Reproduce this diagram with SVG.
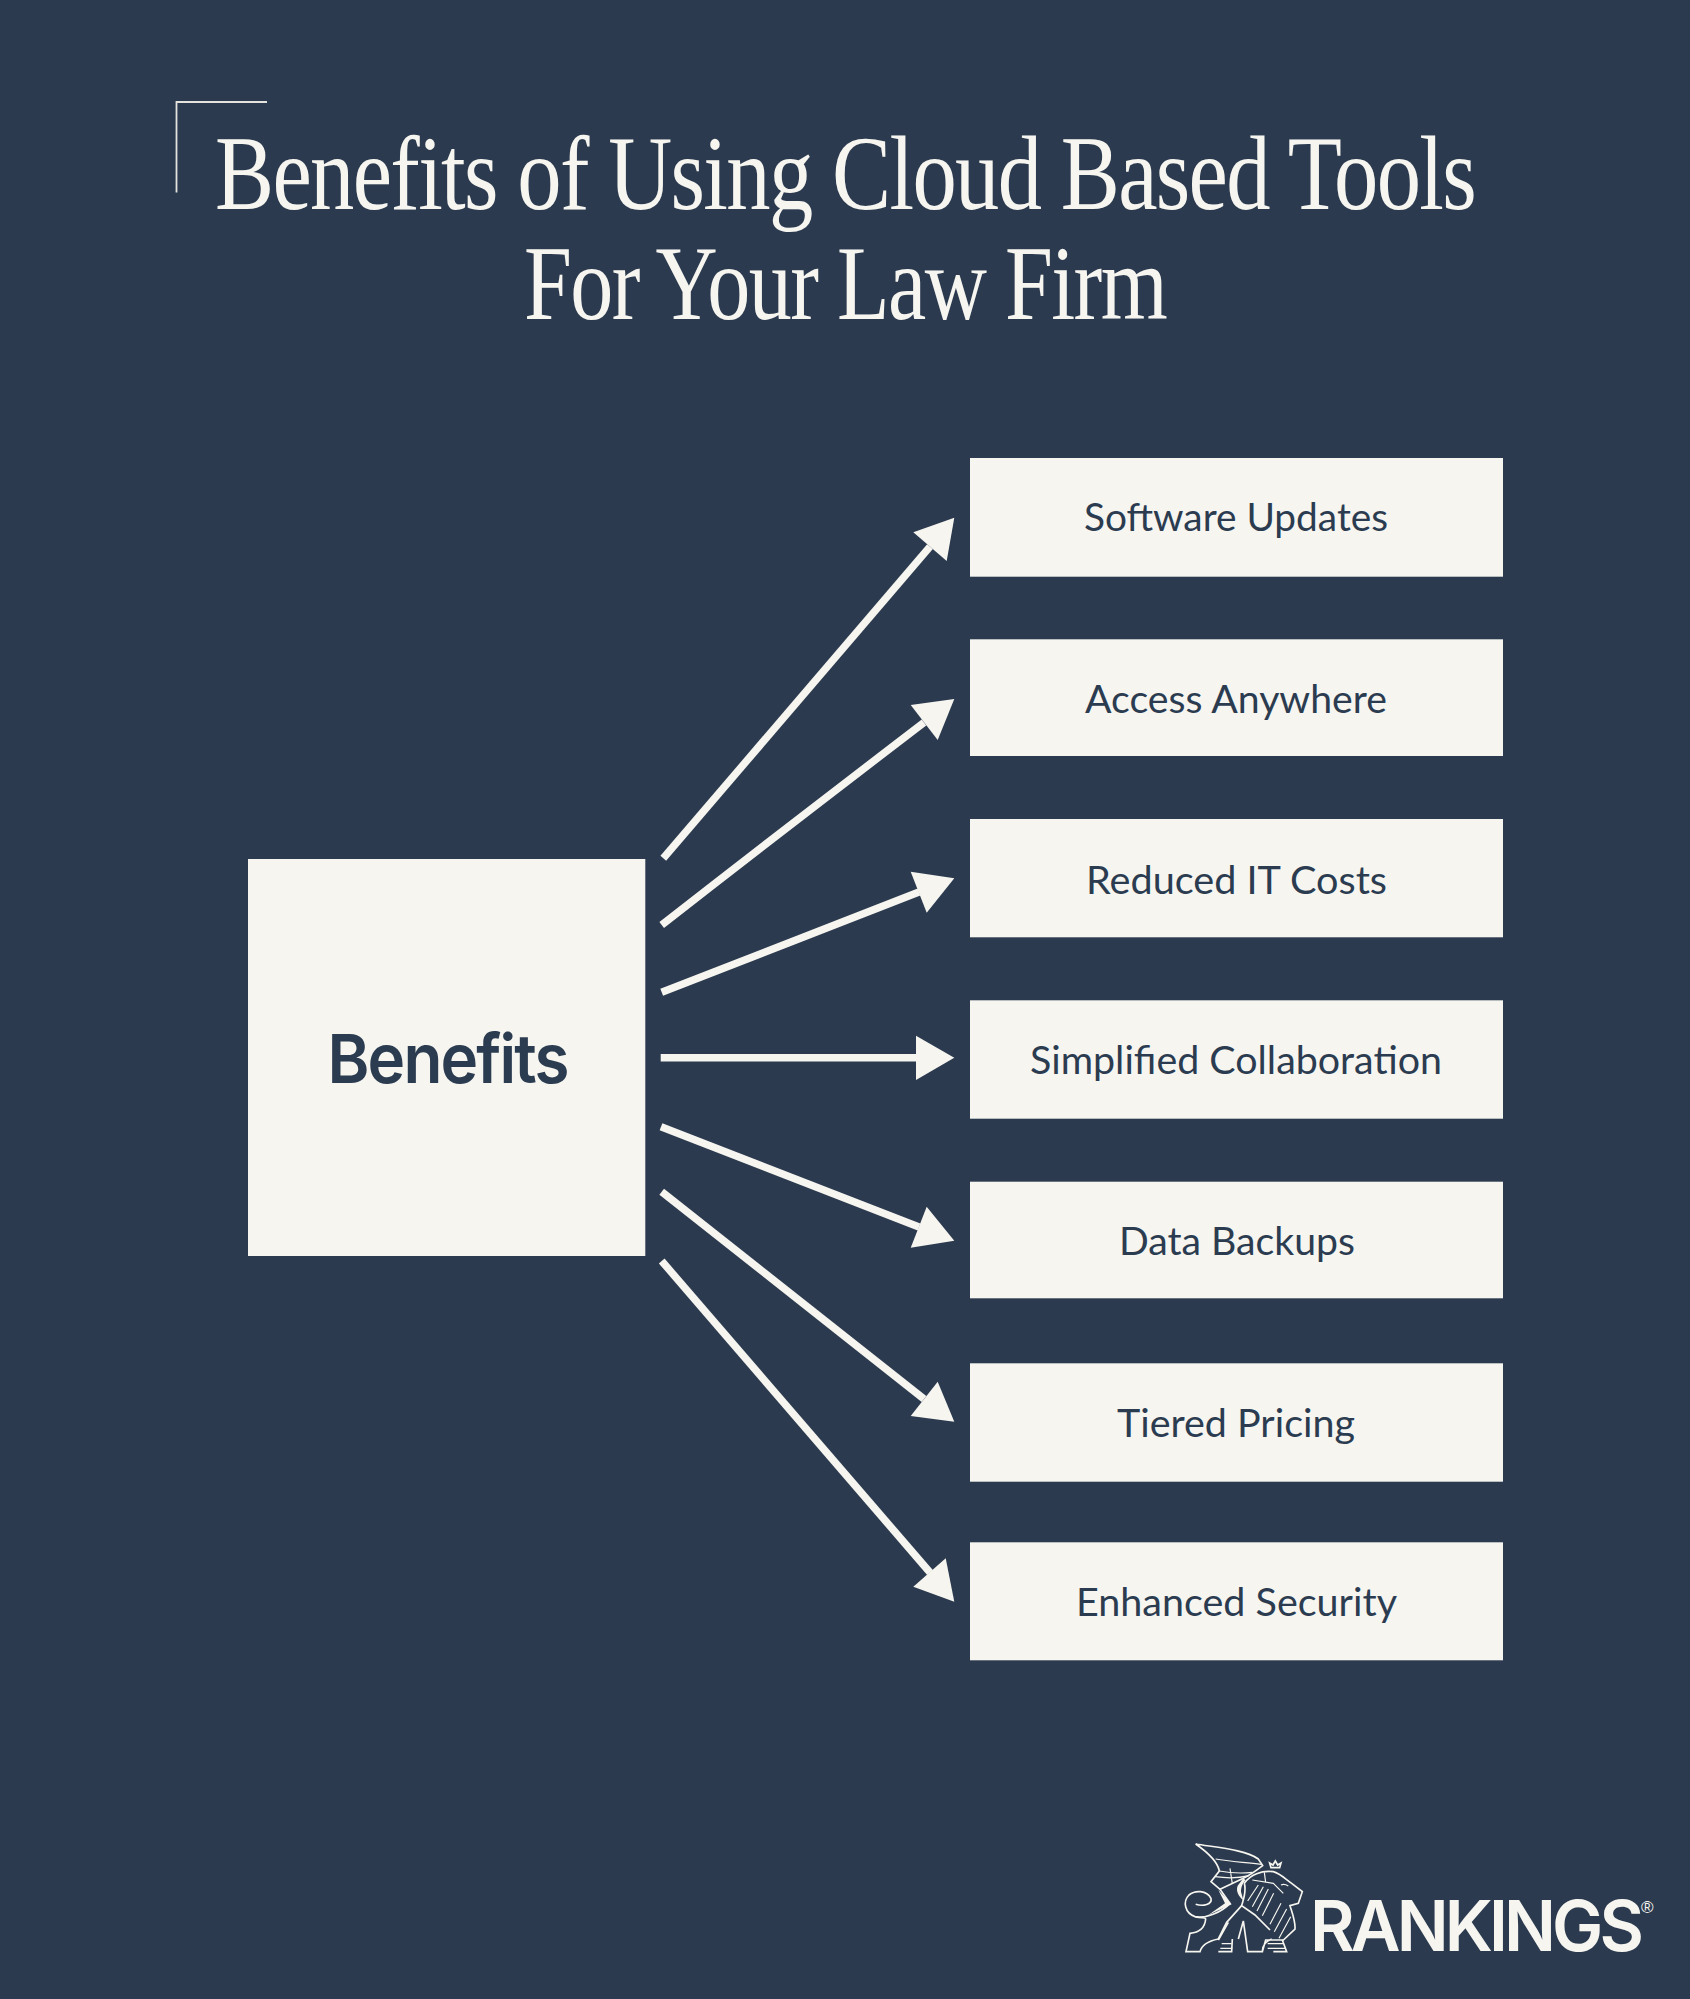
<svg xmlns="http://www.w3.org/2000/svg" width="1690" height="1999" viewBox="0 0 1690 1999">
<defs>
<style>
.box{fill:#f6f5f0}
.shaft{stroke:#f6f5f0;stroke-width:7.500;fill:none}
.head{fill:#f6f5f0}
.title{font-family:"Liberation Serif","Times New Roman",serif;font-size:105px;fill:#f6f5f0;letter-spacing:-2px}
.label{font-family:Lato,"Liberation Sans",sans-serif;font-size:38px;fill:#2c3c50}
.big{font-family:Inter,"Liberation Sans",sans-serif;font-weight:600;font-size:68px;letter-spacing:-2px;fill:#2c3c50}
.logoline{fill:none;stroke:#f6f5f0;stroke-width:5;stroke-linejoin:miter}
.logothin{fill:none;stroke:#f6f5f0;stroke-width:3.500}
.logofill{fill:#f6f5f0}
.brand{font-family:Inter,"Liberation Sans",sans-serif;font-weight:600;font-size:70px;letter-spacing:-4px;fill:#f6f5f0}
.reg{font-family:"Liberation Sans",sans-serif;font-size:17px;fill:#f6f5f0}
</style>
</defs>
<rect width="1690" height="1999" fill="#2b3a4e"/>
<g id="title">
<path d="M176.500 192.500V102H267" fill="none" stroke="#e4e3de" stroke-width="1.800"/>
<text class="title" x="215" y="209" textLength="1260" lengthAdjust="spacingAndGlyphs">Benefits of Using Cloud Based Tools</text>
<text class="title" x="524" y="319" textLength="642" lengthAdjust="spacingAndGlyphs">For Your Law Firm</text>
</g>
<g id="connectors">
<path class="shaft" d="M663.300 858.300L930 546.600"/><path class="head" d="M954.300 517.700L913.300 532.300L946.700 561Z"/>
<path class="shaft" d="M661.700 925Q790 825 924 722.500"/><path class="head" d="M954.300 699L910.700 705L937.700 740Z"/>
<path class="shaft" d="M661.700 992.300L919 892"/><path class="head" d="M954.300 878.300L910.700 871.700L926.700 912.700Z"/>
<path class="shaft" d="M660.700 1057.700H917"/><path class="head" d="M954.300 1057.700L916 1035.700V1080Z"/>
<path class="shaft" d="M661 1126.700L919 1227"/><path class="head" d="M954.300 1240.700L926.700 1206.700L910.700 1247.700Z"/>
<path class="shaft" d="M661.700 1191.700L924 1399"/><path class="head" d="M954.300 1421.700L937.700 1381.700L910.700 1416Z"/>
<path class="shaft" d="M661.700 1261L930 1572.500"/><path class="head" d="M954.300 1601.700L945.700 1558.300L913.300 1586.700Z"/>
</g>
<g id="node-benefits"><rect class="box" x="248" y="859" width="397.300" height="397"/><text class="big" x="327.500" y="1083" textLength="240" lengthAdjust="spacingAndGlyphs">Benefits</text></g>
<g id="node-software-updates"><rect class="box" x="970" y="458" width="533" height="118.700"/><text class="label" x="1084" y="531" textLength="304" lengthAdjust="spacingAndGlyphs">Software Updates</text></g>
<g id="node-access-anywhere"><rect class="box" x="970" y="639.300" width="533" height="116.700"/><text class="label" x="1085" y="712.500" textLength="302" lengthAdjust="spacingAndGlyphs">Access Anywhere</text></g>
<g id="node-reduced-it-costs"><rect class="box" x="970" y="819" width="533" height="118.300"/><text class="label" x="1086" y="894" textLength="301" lengthAdjust="spacingAndGlyphs">Reduced IT Costs</text></g>
<g id="node-simplified-collaboration"><rect class="box" x="970" y="1000.300" width="533" height="118.400"/><text class="label" x="1030" y="1074" textLength="412" lengthAdjust="spacingAndGlyphs">Simplified Collaboration</text></g>
<g id="node-data-backups"><rect class="box" x="970" y="1181.700" width="533" height="116.600"/><text class="label" x="1119" y="1255" textLength="236" lengthAdjust="spacingAndGlyphs">Data Backups</text></g>
<g id="node-tiered-pricing"><rect class="box" x="970" y="1363.300" width="533" height="118.400"/><text class="label" x="1117" y="1437" textLength="238" lengthAdjust="spacingAndGlyphs">Tiered Pricing</text></g>
<g id="node-enhanced-security"><rect class="box" x="970" y="1542.300" width="533" height="118"/><text class="label" x="1076" y="1616" textLength="321" lengthAdjust="spacingAndGlyphs">Enhanced Security</text></g>
<g id="logo">
<g transform="translate(1175 1835) scale(.3333)">
<path class="logoline" d="M62 27C130 38 215 45 250 72L263 92C240 110 225 120 205 130L135 163L108 140L133 108C128 80 95 50 62 27Z"/>
<path class="logothin" d="M122 72C165 80 215 82 258 88M133 108C165 114 195 116 232 112M120 125C155 130 190 130 222 122M165 100L172 146"/>
<path class="logoline" d="M135 163L165 205C140 232 90 252 60 245C30 235 22 200 42 180C60 165 95 165 108 190C112 208 85 215 62 208"/>
<path class="logofill" d="M130 165L170 208L100 240L150 205Z"/>
<path class="logofill" d="M205 130L188 152C182 168 190 182 205 196L198 170C198 155 205 142 212 136Z"/>
<path class="logoline" d="M62 246C80 250 92 246 92 252C90 275 78 292 45 295L33 350H75C80 330 100 318 130 312L155 262L200 212"/>
<path class="logoline" d="M160 262L130 315M205 258L218 350H262C262 335 268 320 290 312M205 258L190 312M130 350H170L172 312M262 350L272 315H322L335 350H295"/>
<path class="logoline" d="M208 145C225 120 260 105 295 110C315 115 335 135 350 145L382 170L370 205L345 212C352 235 362 260 360 282L322 318M208 145C215 170 205 195 200 212L240 240L285 285"/>
<path class="logothin" d="M250 150L218 198M265 155L232 215M280 162L246 228M296 175L262 242M318 205L285 268M335 222L298 290M347 245L312 310M232 135L295 145L325 175M268 112L272 142M140 326H170M136 340H172M278 326H325M278 340H330"/>
<path class="logoline" d="M288 98L284 84L294 90L301 78L308 90L318 84L314 98Z"/>
<path class="logothin" d="M318 150C325 147 332 148 340 153"/>
</g>
<text class="brand" x="1310" y="1950.500" textLength="330" lengthAdjust="spacingAndGlyphs">RANKINGS</text>
<text class="reg" x="1641" y="1913">®</text>
</g>
</svg>
